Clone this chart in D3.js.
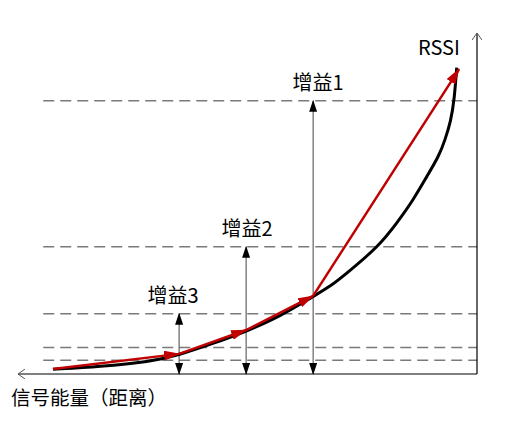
<!DOCTYPE html>
<html>
<head>
<meta charset="utf-8">
<script src="https://cdn.jsdelivr.net/npm/d3@7"></script>
<style>
  body { margin: 0; background: #fff; }
  svg { display: block; font-family: "Noto Sans CJK SC", "Noto Sans", sans-serif; }
</style>
</head>
<body>
<svg id="chart"></svg>
<script>
// curve of RSSI vs signal energy, in axis units 0..100
const curveX = [7.63, 17.86, 28.76, 35.08, 42.48, 49.67, 57.08, 64.27, 67.97, 71.61, 78.50, 82.50, 86.12, 89.04, 91.72, 93.03, 94.27, 95.05, 95.58]
const curveY = [1.38, 2.14, 3.61, 5.57, 8.94, 12.46, 16.86, 22.73, 25.60, 29.53, 37.33, 44.19, 51.03, 57.86, 63.93, 68.62, 73.99, 80.35, 89.82]

// red step arrows (piecewise approximation)
const stepX = [7.6, 35.1, 49.7, 64.3, 96.1]
const stepY = [1.5, 5.9, 12.9, 22.9, 89.4]

// dashed reference levels
const levels = [80.1, 37.3, 17.7, 7.8, 4.0]

// gain arrows
const gainNames = ['增益1', '增益2', '增益3']
const gainX = [64.3, 49.7, 35.1]
const gainTop = [80.1, 37.3, 17.7]

const xLabel = '信号能量（距离）'
const yLabel = 'RSSI'

const w = 508, h = 430
const svg = d3.select('#chart').attr('width', w).attr('height', h)

const x = d3.scaleLinear().domain([0, 100]).range([18, 477])
const y = d3.scaleLinear().domain([0, 100]).range([374, 33])

const defs = svg.append('defs')
defs.append('marker')
  .attr('id', 'red-head')
  .attr('markerUnits', 'userSpaceOnUse')
  .attr('viewBox', '0 0 16 10')
  .attr('refX', 15).attr('refY', 5)
  .attr('markerWidth', 16).attr('markerHeight', 10)
  .attr('orient', 'auto')
  .append('path').attr('d', 'M0,0 L16,5 L0,10 Z').attr('fill', '#c00000')
defs.append('marker')
  .attr('id', 'blk-head')
  .attr('markerUnits', 'userSpaceOnUse')
  .attr('viewBox', '0 0 12 8')
  .attr('refX', 11).attr('refY', 4)
  .attr('markerWidth', 12).attr('markerHeight', 8)
  .attr('orient', 'auto-start-reverse')
  .append('path').attr('d', 'M0,0 L12,4 L0,8 Z').attr('fill', '#000')
defs.append('marker')
  .attr('id', 'open-head')
  .attr('markerUnits', 'userSpaceOnUse')
  .attr('viewBox', '0 0 8 10')
  .attr('refX', 7).attr('refY', 5)
  .attr('markerWidth', 8).attr('markerHeight', 10)
  .attr('orient', 'auto')
  .append('path').attr('d', 'M0,0 L7,5 L0,10').attr('fill', 'none')
  .attr('stroke', '#555').attr('stroke-width', 1)

// dashed levels
svg.append('g').selectAll('line')
  .data(levels)
  .enter()
  .append('line')
  .attr('x1', x(5.5)).attr('x2', x(100))
  .attr('y1', d => y(d)).attr('y2', d => y(d))
  .attr('stroke', '#7a7a7a')
  .attr('stroke-width', 1.5)
  .attr('stroke-dasharray', '11,6')

// axes: baseline pointing left, RSSI axis on the right
svg.append('line')
  .attr('x1', x(100)).attr('y1', y(0))
  .attr('x2', x(0)).attr('y2', y(0))
  .attr('stroke', '#000').attr('stroke-width', 1.2)
  .attr('marker-end', 'url(#open-head)')
svg.append('line')
  .attr('x1', x(100)).attr('y1', y(0))
  .attr('x2', x(100)).attr('y2', y(100))
  .attr('stroke', '#000').attr('stroke-width', 1.2)
  .attr('marker-end', 'url(#open-head)')

// gain arrows (double headed)
svg.append('g').selectAll('line')
  .data(gainX)
  .enter()
  .append('line')
  .attr('x1', d => x(d)).attr('x2', d => x(d))
  .attr('y1', y(0))
  .attr('y2', (d, i) => y(gainTop[i]))
  .attr('stroke', '#444')
  .attr('stroke-width', 1)
  .attr('marker-start', 'url(#blk-head)')
  .attr('marker-end', 'url(#blk-head)')

// black curve
const curvePts = curveX.map((d, i) => [d, curveY[i]])
svg.append('path')
  .datum(curvePts)
  .attr('d', d3.line().x(d => x(d[0])).y(d => y(d[1])).curve(d3.curveBasis))
  .attr('fill', 'none')
  .attr('stroke', '#000')
  .attr('stroke-width', 3)

// red arrows
svg.append('g').selectAll('line')
  .data(stepX.slice(1))
  .enter()
  .append('line')
  .attr('x1', (d, i) => x(stepX[i])).attr('y1', (d, i) => y(stepY[i]))
  .attr('x2', d => x(d)).attr('y2', (d, i) => y(stepY[i + 1]))
  .attr('stroke', '#c00000')
  .attr('stroke-width', 2.5)
  .attr('marker-end', 'url(#red-head)')

// labels (small horizontal nudges to sit like the original)
const labelDx = [5, 1, -6]
svg.append('g').selectAll('text')
  .data(gainNames)
  .enter()
  .append('text')
  .attr('x', (d, i) => x(gainX[i]) + labelDx[i])
  .attr('y', (d, i) => y(gainTop[i]) - 11)
  .attr('text-anchor', 'middle')
  .attr('font-size', 20)
  .text(d => d)

svg.append('text')
  .attr('x', 439).attr('y', 55)
  .attr('text-anchor', 'middle')
  .attr('font-size', 20)
  .text(yLabel)

svg.append('text')
  .attr('x', 11).attr('y', 405)
  .attr('font-size', 19.5)
  .text(xLabel)
</script>
</body>
</html>
